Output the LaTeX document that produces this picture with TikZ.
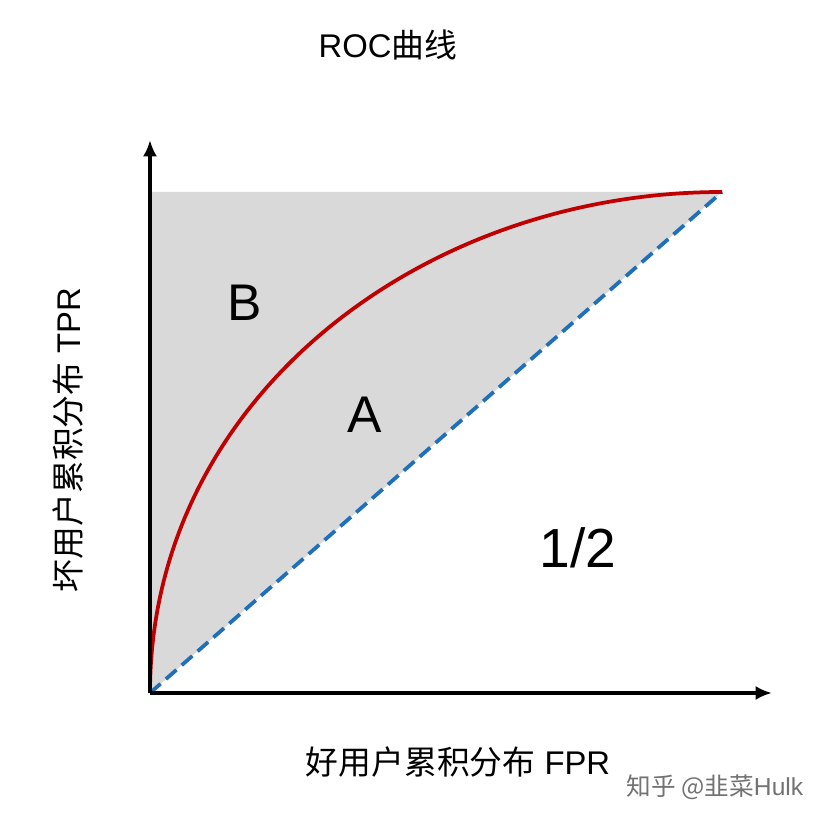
\documentclass[tikz,border=0pt]{standalone}
\usepackage{fontspec}
\usetikzlibrary{arrows.meta}
\setmainfont{Liberation Sans}
\newfontfamily\cjk{Noto Sans CJK SC}
\definecolor{areagray}{RGB}{217,217,217}
\definecolor{curvered}{RGB}{192,0,0}
\definecolor{diagblue}{RGB}{31,112,184}
\begin{document}
\begin{tikzpicture}[x=0.03cm,y=-0.03cm,
  axis/.style={line width=3pt,-{Latex[length=14pt,width=12pt]}},
  lbl/.style={inner sep=0pt}]
\useasboundingbox (0,0) rectangle (826,820);
\fill[white] (0,0) rectangle (826,820);
\coordinate (O) at (150,693);
\coordinate (T) at (722,192);
\fill[areagray] (O) -- (150,192) -- (T) -- cycle;
\draw[diagblue,line width=3.2pt,dash pattern=on 12pt off 6pt] (O) -- (T);
\draw[curvered,line width=3.2pt] (O) .. controls (150,400) and (420,192) .. (T);
\coordinate (YE) at (150,140);
\coordinate (XE) at (772,693);
\draw[axis] (O) -- (YE);
\draw[axis] (O) -- (XE);
\node[lbl,font=\fontsize{28pt}{32pt}\selectfont] (title) at (388,45) {ROC{\cjk 曲线}};
\node[lbl,font=\fontsize{44pt}{50pt}\selectfont] (B) at (245,303) {B};
\node[lbl,font=\fontsize{44pt}{50pt}\selectfont] (A) at (365,415) {A};
\node[lbl,font=\fontsize{47pt}{52pt}\selectfont] (half) at (578,548) {1/2};
\node[lbl,rotate=90,font=\fontsize{28pt}{32pt}\selectfont] (ylab) at (68,440) {{\cjk 坏用户累积分布} TPR};
\node[lbl,font=\fontsize{28pt}{32pt}\selectfont] (xlab) at (458,762) {{\cjk 好用户累积分布} FPR};
\node[lbl,text=black!55,font=\fontsize{21pt}{24pt}\selectfont] (wm) at (715,787) {{\cjk 知乎 @韭菜}Hulk};
\end{tikzpicture}
\end{document}
